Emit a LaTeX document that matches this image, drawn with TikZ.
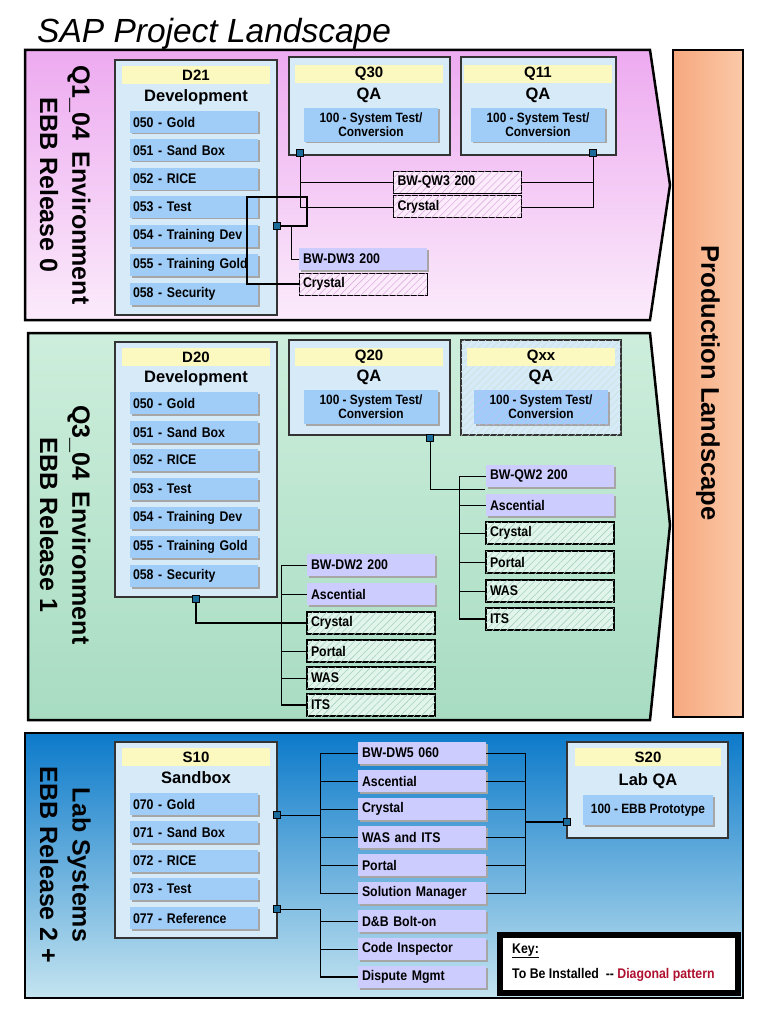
\documentclass[tikz,border=0pt]{standalone}
\usepackage{fontspec}
\setmainfont{Liberation Sans}
\newfontfamily\narrowf{Liberation Sans}[FakeStretch=0.88]
\usetikzlibrary{patterns,patterns.meta,shadows}
\definecolor{itemb}{HTML}{9FCDF8}
\definecolor{sysf}{HTML}{D6EAF8}
\definecolor{hdr}{HTML}{FBF8C0}
\definecolor{lav}{HTML}{CCCCFF}
\definecolor{sqc}{HTML}{1A6A9A}
\definecolor{keyred}{HTML}{B01030}
\definecolor{pinkT}{HTML}{EDAAF0}
\definecolor{pinkB}{HTML}{FBEBFB}
\definecolor{grnT}{HTML}{CDEEDC}
\definecolor{grnB}{HTML}{A8DCC2}
\definecolor{bluT}{HTML}{0C7ACA}
\definecolor{bluB}{HTML}{C4E4F0}
\definecolor{orL}{HTML}{F6A87E}
\definecolor{orR}{HTML}{FBC9A8}
\definecolor{hpk}{HTML}{DDB0E0}
\definecolor{hgr}{HTML}{A8D0C4}
\tikzset{
  base/.style={font=\narrowf\fontsize{14}{15}\selectfont\bfseries, inner sep=4pt},
  shad/.style={drop shadow={shadow xshift=1.5pt, shadow yshift=-1.5pt, fill=gray!70, opacity=1}},
  item/.style={base, fill=itemb, text width=122pt, inner sep=3pt, minimum height=22pt, align=left, shad},
  sysbox/.style={draw=black!80, line width=1.5pt, fill=sysf, inner sep=0pt},
  hdr/.style={fill=hdr, minimum width=148pt, minimum height=18pt, inner sep=0pt,
     font=\fontsize{15}{17}\selectfont\bfseries},
  sub/.style={font=\fontsize{16.5}{18}\selectfont\bfseries, inner sep=0pt},
  qitem/.style={base, fill=itemb, minimum width=134pt, minimum height=34pt, align=center,
     inner sep=1pt, font=\narrowf\fontsize{13.5}{14}\selectfont\bfseries, shad},
  sw/.style={base, text width=120pt, minimum height=22pt, align=left},
  lavb/.style={sw, fill=lav, shad},
  hpink/.style={sw, draw=black, line width=1pt, fill=pinkB,
     postaction={pattern={Lines[angle=45,distance=5pt,line width=0.6pt]}, pattern color=hpk}},
  hgreen/.style={sw, draw=black, line width=1.2pt, fill=grnT!60!white,
     postaction={pattern={Lines[angle=45,distance=5pt,line width=0.6pt]}, pattern color=hgr}},
  sq/.style={draw=black, fill=sqc, minimum size=7pt, inner sep=0pt},
  sect/.style={font=\fontsize{25}{27}\selectfont\bfseries, rotate=-90},
  wire/.style={line width=0.8pt},
  twire/.style={line width=1.6pt},
}
\begin{document}
\begin{tikzpicture}[x=1pt,y=-1pt]
\useasboundingbox (0,0) rectangle (768,1024);
\fill[white] (0,0) rectangle (768,1024);
% title
\node[anchor=west, inner sep=0pt, font=\fontsize{33.5}{35}\selectfont\itshape] (title) at (37,34) {SAP Project Landscape};
\draw[line width=1.2pt] ([yshift=-3pt]title.south west) -- ([yshift=-3pt]title.south east);
% sections
\draw[line width=2.5pt, top color=pinkT, bottom color=pinkB]
  (25,50) -- (650,50) -- (670,185) -- (650,320) -- (25,320) -- cycle;
\draw[line width=2.5pt, top color=grnT, bottom color=grnB]
  (28,333) -- (650,333) -- (670,525) -- (650,720) -- (28,720) -- cycle;
\draw[line width=2.5pt, top color=bluT, bottom color=bluB]
  (25,733) rectangle (743,998);
\draw[line width=2.5pt, left color=orL, right color=orR]
  (673,50) rectangle (743,717);
\node[sect, font=\fontsize{25.5}{27}\selectfont\bfseries] (prod) at (708,383) {Production Landscape};
\node[sect] (s1a) at (79,185) {Q1\_04\, Environment};
\node[sect] (s1b) at (49,185) {EBB Release 0};
\node[sect] (s2a) at (79,525) {Q3\_04\, Environment};
\node[sect] (s2b) at (49,525) {EBB Release 1};
\node[sect] (s3a) at (79,865) {Lab Systems};
\node[sect] (s3b) at (49,865) {EBB Release 2 +};

% ---------- Section 1 ----------
\node[sysbox, minimum width=162pt, minimum height=255pt] (d21) at (196,187.5) {};
\node[hdr] (d21h) at (196,75) {D21};
\node[sub] (d21s) at (196,97) {Development};
\node[item] (d21a) at (194,122) {050 - Gold};
\node[item] (d21b) at (194,150) {051 - Sand Box};
\node[item] (d21c) at (194,179) {052 - RICE};
\node[item] (d21d) at (194,207) {053 - Test};
\node[item] (d21e) at (194,236) {054 - Training Dev};
\node[item] (d21f) at (194,265) {055 - Training Gold};
\node[item] (d21g) at (194,294) {058 - Security};

\node[sysbox, minimum width=161pt, minimum height=98pt] (q30) at (369.5,106) {};
\node[hdr] (q30h) at (369,74) {Q30};
\node[sub] (q30s) at (369,95) {QA};
\node[qitem] (q30i) at (371,125) {100 - System Test/\\Conversion};
\node[sysbox, minimum width=155pt, minimum height=98pt] (q11) at (538.5,106) {};
\node[hdr] (q11h) at (538,74) {Q11};
\node[sub] (q11s) at (538,95) {QA};
\node[qitem] (q11i) at (538,125) {100 - System Test/\\Conversion};

\node[hpink, line width=0.8pt] (bwqw3) at (457.5,182) {BW-QW3 200};
\node[hpink] (cr3) at (457.5,207) {Crystal};
\node[lavb] (bwdw3) at (363,259) {BW-DW3 200};
\node[hpink] (cr3b) at (363,284) {Crystal};

\node[sq] (sq30) at (300,153) {};
\node[sq] (sq11) at (593,153) {};
\node[sq] (sqd21) at (277,226) {};
\draw[wire] (sq30.south) |- (bwqw3.west);
\draw[wire] (sq30.south) |- (cr3.west);
\draw[wire] (sq11.south) |- (bwqw3.east);
\draw[wire] (sq11.south) |- (cr3.east);
\draw[twire] (sqd21.east) -- (307,226) -- (307,197) -- (247,197) |- (cr3b.west);
\draw[wire] (sqd21.east) -| (291,259) -- (bwdw3.west);

% ---------- Section 2 ----------
\node[sysbox, minimum width=162pt, minimum height=255pt] (d20) at (196,469.5) {};
\node[hdr] (d20h) at (196,357) {D20};
\node[sub] (d20s) at (196,378) {Development};
\node[item] (d20a) at (194,403) {050 - Gold};
\node[item] (d20b) at (194,432) {051 - Sand Box};
\node[item] (d20c) at (194,460) {052 - RICE};
\node[item] (d20d) at (194,489) {053 - Test};
\node[item] (d20e) at (194,518) {054 - Training Dev};
\node[item] (d20f) at (194,547) {055 - Training Gold};
\node[item] (d20g) at (194,576) {058 - Security};

\node[sysbox, minimum width=161pt, minimum height=95pt] (q20) at (369.5,387.5) {};
\node[hdr] (q20h) at (369,357) {Q20};
\node[sub] (q20s) at (369,377) {QA};
\node[qitem] (q20i) at (371,407) {100 - System Test/\\Conversion};
\node[draw=black!80, line width=1.5pt, fill=sysf, minimum width=160pt, minimum height=95pt, inner sep=0pt,
  postaction={pattern={Lines[angle=45,distance=5pt,line width=0.6pt]}, pattern color=hgr!60}] (qxx) at (541,387.5) {};
\node[hdr] (qxxh) at (541,357) {Qxx};
\node[sub] (qxxs) at (541,377) {QA};
\node[qitem, postaction={pattern={Lines[angle=45,distance=5pt,line width=0.6pt]}, pattern color=blue!25}] (qxxi) at (541,407) {100 - System Test/\\Conversion};

\node[lavb] (bwqw2) at (550,476) {BW-QW2 200};
\node[lavb] (asc2r) at (550,505) {Ascential};
\node[hgreen] (cr2r) at (550,533) {Crystal};
\node[hgreen] (po2r) at (550,562) {Portal};
\node[hgreen] (wa2r) at (550,591) {WAS};
\node[hgreen] (it2r) at (550,619) {ITS};

\node[lavb] (bwdw2) at (371,565) {BW-DW2 200};
\node[lavb] (asc2l) at (371,594) {Ascential};
\node[hgreen] (cr2l) at (371,623) {Crystal};
\node[hgreen] (po2l) at (371,651) {Portal};
\node[hgreen] (wa2l) at (371,678) {WAS};
\node[hgreen] (it2l) at (371,705) {ITS};

\node[sq] (sqq20) at (430,438) {};
\node[sq] (sqd20) at (196,599) {};
\coordinate (br2r) at (459,0);
\coordinate (br2l) at (281,0);
\draw[wire] (sqq20.south) |- (485,489);
\draw[wire] (bwqw2.west) -| (br2r |- it2r.west);
\draw[twire] (br2r |- it2r.west) -- (it2r.west);
\foreach \n in {asc2r,cr2r,po2r,wa2r} \draw[wire] (\n.west) -- (\n.west -| br2r);
\draw[twire] (sqd20.south) |- (cr2l.west);
\draw[wire] (bwdw2.west) -| (br2l |- it2l.west);
\draw[twire] (br2l |- it2l.west) -- (it2l.west);
\foreach \n in {asc2l,po2l,wa2l} \draw[wire] (\n.west) -- (\n.west -| br2l);

% ---------- Section 3 ----------
\node[sysbox, minimum width=162pt, minimum height=196pt] (s10) at (196,840) {};
\node[hdr] (s10h) at (196,757) {S10};
\node[sub] (s10s) at (196,778) {Sandbox};
\node[item] (s10a) at (194,804) {070 - Gold};
\node[item] (s10b) at (194,832) {071 - Sand Box};
\node[item] (s10c) at (194,861) {072 - RICE};
\node[item] (s10d) at (194,889) {073 - Test};
\node[item] (s10e) at (194,918) {077 - Reference};

\node[sysbox, minimum width=161pt, minimum height=96pt] (s20) at (647.5,790) {};
\node[hdr, minimum width=146pt] (s20h) at (648,757) {S20};
\node[sub] (s20s) at (648,781) {Lab QA};
\node[qitem, minimum width=130pt, minimum height=30pt] (s20i) at (648,810) {100 - EBB Prototype};

\node[lavb] (m1) at (422,753) {BW-DW5 060};
\node[lavb] (m2) at (422,781) {Ascential};
\node[lavb] (m3) at (422,809) {Crystal};
\node[lavb] (m4) at (422,837) {WAS and ITS};
\node[lavb] (m5) at (422,865) {Portal};
\node[lavb] (m6) at (422,893) {Solution Manager};
\node[lavb] (m7) at (422,921) {D\&B Bolt-on};
\node[lavb] (m8) at (422,949) {Code Inspector};
\node[lavb] (m9) at (422,977) {Dispute Mgmt};

\node[sq] (sqs1) at (277,815) {};
\node[sq] (sqs2) at (277,909) {};
\node[sq] (sqs20) at (567,822) {};
\coordinate (bl) at (320,0);
\coordinate (br) at (525,0);
\draw[wire] (sqs1.east) -- (sqs1.east -| bl);
\draw[wire] (m1.west) -| (bl |- m6.west) -- (m6.west);
\draw[wire] (m1.east) -| (br |- m6.east) -- (m6.east);
\foreach \n in {m2,m3,m4,m5} {\draw[wire] (\n.west) -- (\n.west -| bl); \draw[wire] (\n.east) -- (\n.east -| br);}
\draw[twire] (sqs20.west) -- (sqs20.west -| br);
\draw[wire] (sqs2.east) -| (bl |- m9.west);
\draw[twire] (bl |- m9.west) -- (m9.west);
\foreach \n in {m7,m8} \draw[wire] (\n.west) -- (\n.west -| bl);

% key
\node[draw=black, line width=6pt, fill=white, minimum width=238pt, minimum height=58pt] (key) at (619,964) {};
\node[anchor=west, base, inner sep=0pt] (keyt) at (512,951) {\underline{Key:}};
\node[anchor=west, base, inner sep=0pt] (keyd) at (512,975) {To Be Installed \ -- \textcolor{keyred}{Diagonal pattern}};
\end{tikzpicture}
\end{document}
